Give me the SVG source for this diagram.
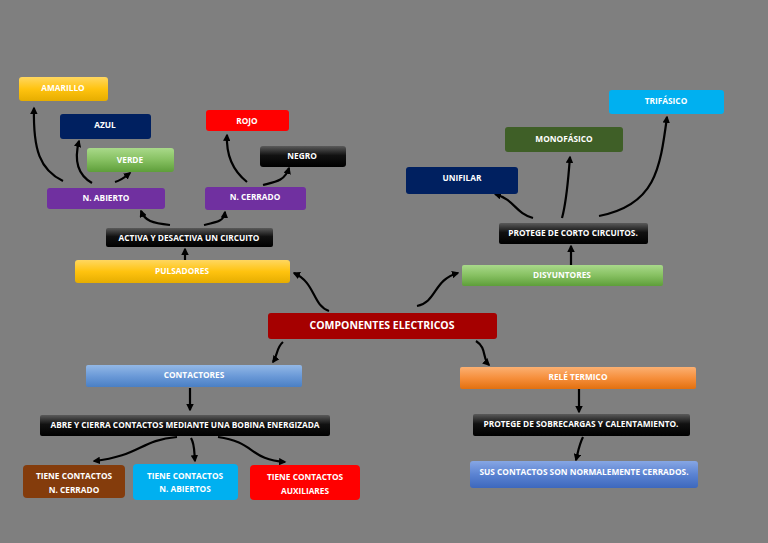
<svg xmlns="http://www.w3.org/2000/svg" width="768" height="543" viewBox="0 0 768 543">
<defs>
<linearGradient id="gGold" x1="0" y1="0" x2="0" y2="1"><stop offset="0" stop-color="#ffd760"/><stop offset="0.5" stop-color="#ffc30f"/><stop offset="1" stop-color="#e6ad00"/></linearGradient>
<linearGradient id="gGreen" x1="0" y1="0" x2="0" y2="1"><stop offset="0" stop-color="#a9d98a"/><stop offset="0.5" stop-color="#86c061"/><stop offset="1" stop-color="#5e9e3a"/></linearGradient>
<linearGradient id="gBlack" x1="0" y1="0" x2="0" y2="1"><stop offset="0" stop-color="#5a5a5a"/><stop offset="0.45" stop-color="#111"/><stop offset="1" stop-color="#000"/></linearGradient>
<linearGradient id="gBlue" x1="0" y1="0" x2="0" y2="1"><stop offset="0" stop-color="#93b8e6"/><stop offset="0.5" stop-color="#6b9ad8"/><stop offset="1" stop-color="#4a7fc4"/></linearGradient>
<linearGradient id="gOrange" x1="0" y1="0" x2="0" y2="1"><stop offset="0" stop-color="#fbb072"/><stop offset="0.5" stop-color="#f68f3c"/><stop offset="1" stop-color="#e2700f"/></linearGradient>
<linearGradient id="gBlue2" x1="0" y1="0" x2="0" y2="1"><stop offset="0" stop-color="#86a6e4"/><stop offset="0.5" stop-color="#5b83d2"/><stop offset="1" stop-color="#3d68bd"/></linearGradient>
<marker id="ah" viewBox="0 0 10 10" refX="8" refY="5" markerWidth="3.4" markerHeight="3.4" orient="auto" markerUnits="strokeWidth"><path d="M0,0 L10,5 L0,10 z" fill="#000"/></marker>
</defs>
<style>
text{font-family:"Open Sans","Liberation Sans",sans-serif;font-weight:700;font-size:8.3px;fill:#fff;text-anchor:middle}
.title{font-size:10.5px}
.c{fill:none;stroke:#000;stroke-width:2.2;marker-end:url(#ah)}
</style>
<rect width="768" height="543" fill="#7f7f7f"/>
<g id="connectors">
<path class="c" d="M63,181 C40,170 33,150 34,108"/>
<path class="c" d="M92,183 C78,175 74,160 79,141"/>
<path class="c" d="M115,182 C122,180 125,177 130,173"/>
<path class="c" d="M247,182 C232,170 226,155 227,135"/>
<path class="c" d="M263,185 C275,182 285,181 289,168"/>
<path class="c" d="M170,225 C152,223 145,221 141,211"/>
<path class="c" d="M204,225 C218,222 224,221 225,212"/>
<path class="c" d="M185,260 L185,249"/>
<path class="c" d="M329,311 C312,305 316,283 294,273"/>
<path class="c" d="M417,306 C437,302 433,280 458,273"/>
<path class="c" d="M476,341 C487,348 482,358 489,365"/>
<path class="c" d="M283,342 C276,348 278,355 273,362"/>
<path class="c" d="M533,218 C515,213 515,200 495,194"/>
<path class="c" d="M562,218 C567,200 568,180 570,157"/>
<path class="c" d="M599,216 C655,205 660,170 667,117"/>
<path class="c" d="M571,265 L571,246"/>
<path class="c" d="M190,388 L190,410"/>
<path class="c" d="M177,437 C140,440 140,456 94,461"/>
<path class="c" d="M191,438 C195,445 194,452 195,461"/>
<path class="c" d="M218,437 C255,442 250,460 285,462"/>
<path class="c" d="M579,389 L579,412"/>
<path class="c" d="M583,437 C579,445 578,452 576,460"/>
</g>
<g id="amarillo"><rect x="19" y="77" width="89" height="24" rx="3" fill="url(#gGold)"/><text x="63" y="91">AMARILLO</text></g>
<g id="azul"><rect x="60" y="114" width="91" height="25" rx="3" fill="#002060"/><text x="105" y="128">AZUL</text></g>
<g id="verde"><rect x="87" y="148" width="87" height="24" rx="3" fill="url(#gGreen)"/><text x="130" y="163">VERDE</text></g>
<g id="n-abierto"><rect x="47" y="188" width="118" height="21" rx="3" fill="#7030a0"/><text x="106" y="201">N. ABIERTO</text></g>
<g id="rojo"><rect x="206" y="110" width="83" height="21" rx="3" fill="#ff0000"/><text x="247" y="123.5">ROJO</text></g>
<g id="negro"><rect x="260" y="146" width="86" height="21" rx="3" fill="url(#gBlack)"/><text x="302" y="159">NEGRO</text></g>
<g id="n-cerrado"><rect x="205" y="187" width="101" height="23" rx="3" fill="#7030a0"/><text x="255" y="200">N. CERRADO</text></g>
<g id="activa"><rect x="106" y="228" width="167" height="19" rx="2" fill="url(#gBlack)"/><text x="189" y="241">ACTIVA Y DESACTIVA UN CIRCUITO</text></g>
<g id="pulsadores"><rect x="75" y="260" width="215" height="23" rx="3" fill="url(#gGold)"/><text x="182" y="274">PULSADORES</text></g>
<g id="trifasico"><rect x="609" y="90" width="115" height="24" rx="3" fill="#00b0f0"/><text x="666" y="104">TRIFÁSICO</text></g>
<g id="monofasico"><rect x="505" y="127" width="118" height="25" rx="3" fill="#3f5f27"/><text x="564" y="142">MONOFÁSICO</text></g>
<g id="unifilar"><rect x="406" y="167" width="112" height="27" rx="3" fill="#002060"/><text x="462" y="181">UNIFILAR</text></g>
<g id="protege-corto"><rect x="499" y="223" width="149" height="21" rx="2" fill="url(#gBlack)"/><text x="573" y="236">PROTEGE DE CORTO CIRCUITOS.</text></g>
<g id="disyuntores"><rect x="462" y="265" width="201" height="21" rx="2" fill="url(#gGreen)"/><text x="562" y="278">DISYUNTORES</text></g>
<g id="componentes"><rect x="268" y="313" width="229" height="26" rx="3" fill="#a50000"/><text class="title" x="382" y="329">COMPONENTES ELECTRICOS</text></g>
<g id="contactores"><rect x="86" y="365" width="216" height="22" rx="2" fill="url(#gBlue)"/><text x="194" y="378">CONTACTORES</text></g>
<g id="abre"><rect x="40" y="415" width="290" height="21" rx="2" fill="url(#gBlack)"/><text x="185" y="428">ABRE Y CIERRA CONTACTOS MEDIANTE UNA BOBINA ENERGIZADA</text></g>
<g id="tiene-nc"><rect x="23" y="465" width="102" height="33" rx="4" fill="#843c0c"/><text x="74" y="479">TIENE CONTACTOS</text><text x="74" y="493">N. CERRADO</text></g>
<g id="tiene-na"><rect x="133" y="464" width="105" height="36" rx="4" fill="#00b0f0"/><text x="185" y="479">TIENE CONTACTOS</text><text x="185" y="492">N. ABIERTOS</text></g>
<g id="tiene-aux"><rect x="250" y="465" width="110" height="35" rx="4" fill="#ff0000"/><text x="305" y="480">TIENE CONTACTOS</text><text x="305" y="494">AUXILIARES</text></g>
<g id="rele"><rect x="460" y="367" width="236" height="22" rx="2" fill="url(#gOrange)"/><text x="578" y="380">RELÉ TERMICO</text></g>
<g id="protege-sobre"><rect x="473" y="414" width="217" height="22" rx="2" fill="url(#gBlack)"/><text x="581" y="427">PROTEGE DE SOBRECARGAS Y CALENTAMIENTO.</text></g>
<g id="sus"><rect x="470" y="461" width="228" height="27" rx="3" fill="url(#gBlue2)"/><text x="584" y="475">SUS CONTACTOS SON NORMALEMENTE CERRADOS.</text></g>
</svg>
